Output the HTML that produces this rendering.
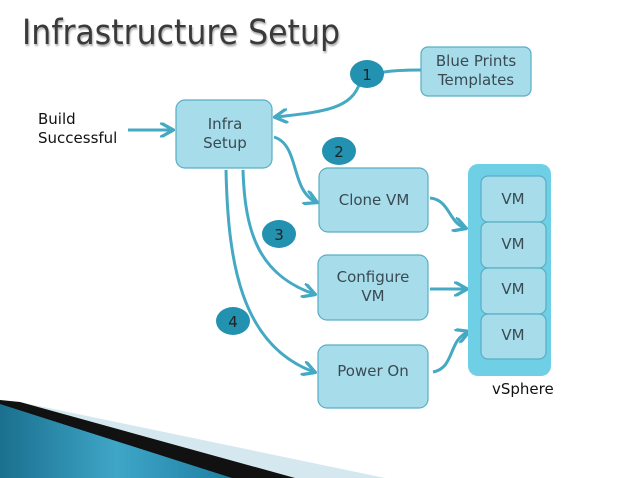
<!DOCTYPE html>
<html><head><style>
html,body{margin:0;padding:0;background:#fff;width:638px;height:478px;overflow:hidden}
svg{display:block}
text{font-family:"DejaVu Sans","Liberation Sans",sans-serif}
</style></head><body>
<svg width="638" height="478" viewBox="0 0 638 478" xmlns="http://www.w3.org/2000/svg">
<defs>
<linearGradient id="sw" x1="0" y1="0" x2="1" y2="0">
<stop offset="0" stop-color="#1a6f8e"/><stop offset="0.5" stop-color="#3fa6c8"/><stop offset="1" stop-color="#1e7fa2"/>
</linearGradient>
<marker id="ah" viewBox="0 0 10 10" refX="8" refY="5" markerWidth="5" markerHeight="5" orient="auto">
<path d="M0,0 L9,5 L0,10" fill="none" stroke="#45a9c4" stroke-width="2.2"/>
</marker>
</defs>
<text x="22" y="44" font-size="35" fill="#3a3a3a" textLength="318" lengthAdjust="spacingAndGlyphs" style="text-shadow:1px 2px 2px #aaa">Infrastructure Setup</text>

<!-- swoosh -->
<polygon points="0,400 20,402 385,478 0,478" fill="#d5e8f0"/>
<polygon points="0,400 20,402 295,478 0,478" fill="#111"/>
<polygon points="0,404 232,478 0,478" fill="url(#sw)"/>

<!-- connectors -->
<g fill="none" stroke="#45a9c4" stroke-width="3">
<path d="M421,70 C390,70 370,72 360,82 C352,110 320,112 276,117" marker-end="url(#ah)"/>
<path d="M128,130 L172,130" marker-end="url(#ah)"/>
<path d="M274,137 C300,145 290,190 316,202" marker-end="url(#ah)"/>
<path d="M243,170 C245,235 260,275 314,294" marker-end="url(#ah)"/>
<path d="M226,170 C228,260 240,345 314,372" marker-end="url(#ah)"/>
<path d="M430,198 C450,200 448,222 465,228" marker-end="url(#ah)"/>
<path d="M430,289 L466,289" marker-end="url(#ah)"/>
<path d="M433,372 C455,368 448,340 468,332" marker-end="url(#ah)"/>
</g>

<!-- boxes -->
<g fill="#a7dcea" stroke="#58aec6" stroke-width="1.2">
<rect x="421" y="47" width="110" height="49" rx="7"/>
<rect x="176" y="100" width="96" height="68" rx="9"/>
<rect x="319" y="168" width="109" height="64" rx="9"/>
<rect x="318" y="255" width="110" height="65" rx="9"/>
<rect x="318" y="345" width="110" height="63" rx="9"/>
</g>
<rect x="468" y="164" width="83" height="212" rx="10" fill="#6fcfe5"/>
<g fill="#a7dcea" stroke="#58aec6" stroke-width="1.2">
<rect x="481" y="176" width="65" height="46" rx="7"/>
<rect x="481" y="222" width="65" height="46" rx="7"/>
<rect x="481" y="268" width="65" height="46" rx="7"/>
<rect x="481" y="314" width="65" height="45" rx="7"/>
</g>

<!-- circles -->
<g fill="#2391b0">
<ellipse cx="367" cy="74" rx="17" ry="14"/>
<ellipse cx="339" cy="151" rx="17" ry="14"/>
<ellipse cx="279" cy="234" rx="17" ry="14"/>
<ellipse cx="233" cy="321" rx="17" ry="14"/>
</g>
<g font-size="15" fill="#222" text-anchor="middle">
<text x="367" y="80">1</text><text x="339" y="157">2</text>
<text x="279" y="240">3</text><text x="233" y="327">4</text>
</g>

<g font-size="15" fill="#3a4a52" text-anchor="middle">
<text x="476" y="66">Blue Prints</text><text x="476" y="85">Templates</text>
<text x="225" y="129">Infra</text><text x="225" y="148">Setup</text>
<text x="374" y="205">Clone VM</text>
<text x="373" y="282">Configure</text><text x="373" y="301">VM</text>
<text x="373" y="376">Power On</text>
<text x="513" y="204">VM</text><text x="513" y="249">VM</text>
<text x="513" y="294">VM</text><text x="513" y="340">VM</text>
</g>
<g font-size="15" fill="#111">
<text x="38" y="124">Build</text><text x="38" y="143">Successful</text>
<text x="492" y="394">vSphere</text>
</g>
</svg>
</body></html>
